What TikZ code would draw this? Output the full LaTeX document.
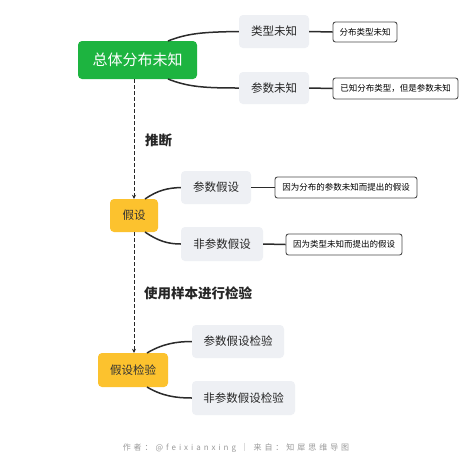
\documentclass[tikz,border=0pt]{standalone}
\usepackage{fontspec}
\setmainfont{Noto Sans CJK SC}
\newfontfamily\footfont[LetterSpace=37]{Noto Sans CJK SC}
\usetikzlibrary{arrows.meta}
\definecolor{mgreen}{HTML}{1DB440}
\definecolor{myellow}{HTML}{FCC22E}
\definecolor{mgray}{HTML}{EEF0F4}
\definecolor{mline}{HTML}{2B2B2B}
\definecolor{mfoot}{HTML}{9A9A9A}
\tikzset{
  rootbox/.style={fill=mgreen, rounded corners=4pt, text=white, font=\fontsize{15}{17}\selectfont, minimum width=119pt, minimum height=38pt, inner sep=0pt},
  ybox/.style={fill=myellow, rounded corners=4pt, text=black!80, font=\fontsize{11.5}{13}\selectfont, minimum height=33pt, inner sep=0pt},
  gbox/.style={fill=mgray, rounded corners=4pt, text=black!85, font=\fontsize{11.5}{13}\selectfont, minimum height=33pt, inner sep=0pt},
  notebox/.style={draw=black!70, line width=0.9pt, fill=white, rounded corners=2.5pt, font=\fontsize{8.5}{10}\selectfont, minimum height=20pt, inner sep=0pt},
  conn/.style={draw=mline, line width=1.5pt},
  dashconn/.style={draw=black!85, line width=1pt, dash pattern=on 3.5pt off 2.5pt, -{Stealth[length=4pt,width=4pt]}},
  lbl/.style={font=\fontsize{13.5}{15}\selectfont\bfseries, text=black!85, anchor=west, inner sep=0pt},
}
\begin{document}
\begin{tikzpicture}[x=1pt,y=-1pt]
\useasboundingbox[fill=white] (0,0) rectangle (474,467);
% root
\node[rootbox] (root) at (137.5,60) {总体分布未知};
\node[gbox, minimum width=70pt] (lx) at (274,31.5) {类型未知};
\node[gbox, minimum width=70pt, minimum height=32pt] (cs) at (274,88) {参数未知};
\node[notebox, minimum width=64pt] (n1) at (365,32) {分布类型未知};
\node[notebox, minimum width=125pt, minimum height=21pt] (n2) at (395.5,88.5) {已知分布类型，但是参数未知};
\draw[conn] (168,41) .. controls (188,33) and (205,32) .. (lx.west);
\draw[conn] (168,79) .. controls (188,87) and (205,88) .. (cs.west);
\draw[conn] (lx.east) -- (n1.west);
\draw[conn] (cs.east) -- (n2.west);
% hypothesis
\node[ybox, minimum width=48pt] (jd) at (134,215.5) {假设};
\node[gbox, minimum width=70pt] (csjs) at (216,187.5) {参数假设};
\node[gbox, minimum width=82pt, minimum height=34pt] (fcsjs) at (222,244) {非参数假设};
\node[notebox, minimum width=142pt, minimum height=21pt] (n3) at (346,187.5) {因为分布的参数未知而提出的假设};
\node[notebox, minimum width=116pt, minimum height=21pt] (n4) at (344,244.5) {因为类型未知而提出的假设};
\draw[conn] (145,199) .. controls (158,190) and (168,188) .. (csjs.west);
\draw[conn] (145,232) .. controls (158,241) and (168,244) .. (fcsjs.west);
\draw[conn] (csjs.east) -- (n3.west);
\draw[conn] (fcsjs.east) -- (n4.west);
% test
\node[ybox, minimum width=70pt, minimum height=34pt] (jdjy) at (133,370) {假设检验};
\node[gbox, minimum width=92pt] (csjy) at (238,341.5) {参数假设检验};
\node[gbox, minimum width=103pt, minimum height=34pt] (fcsjy) at (243.5,398) {非参数假设检验};
\draw[conn] (147,353) .. controls (162,344) and (176,341.5) .. (csjy.west);
\draw[conn] (147,387) .. controls (162,396) and (176,398) .. (fcsjy.west);
% dashed flow
\coordinate (d1) at (134,79);
\draw[dashconn] (d1) -- (jd.north);
\draw[dashconn] (jd.south) -- (jdjy.north -| jd.south);
\node[lbl] (t1) at (145,140) {推断};
\node[lbl] (t2) at (144,293) {使用样本进行检验};
% footer
\node[font=\footfont\fontsize{8}{10}\selectfont, text=mfoot] (ft) at (236,448) {作者：@feixianxing ｜ 来自：知犀思维导图};
\end{tikzpicture}
\end{document}
